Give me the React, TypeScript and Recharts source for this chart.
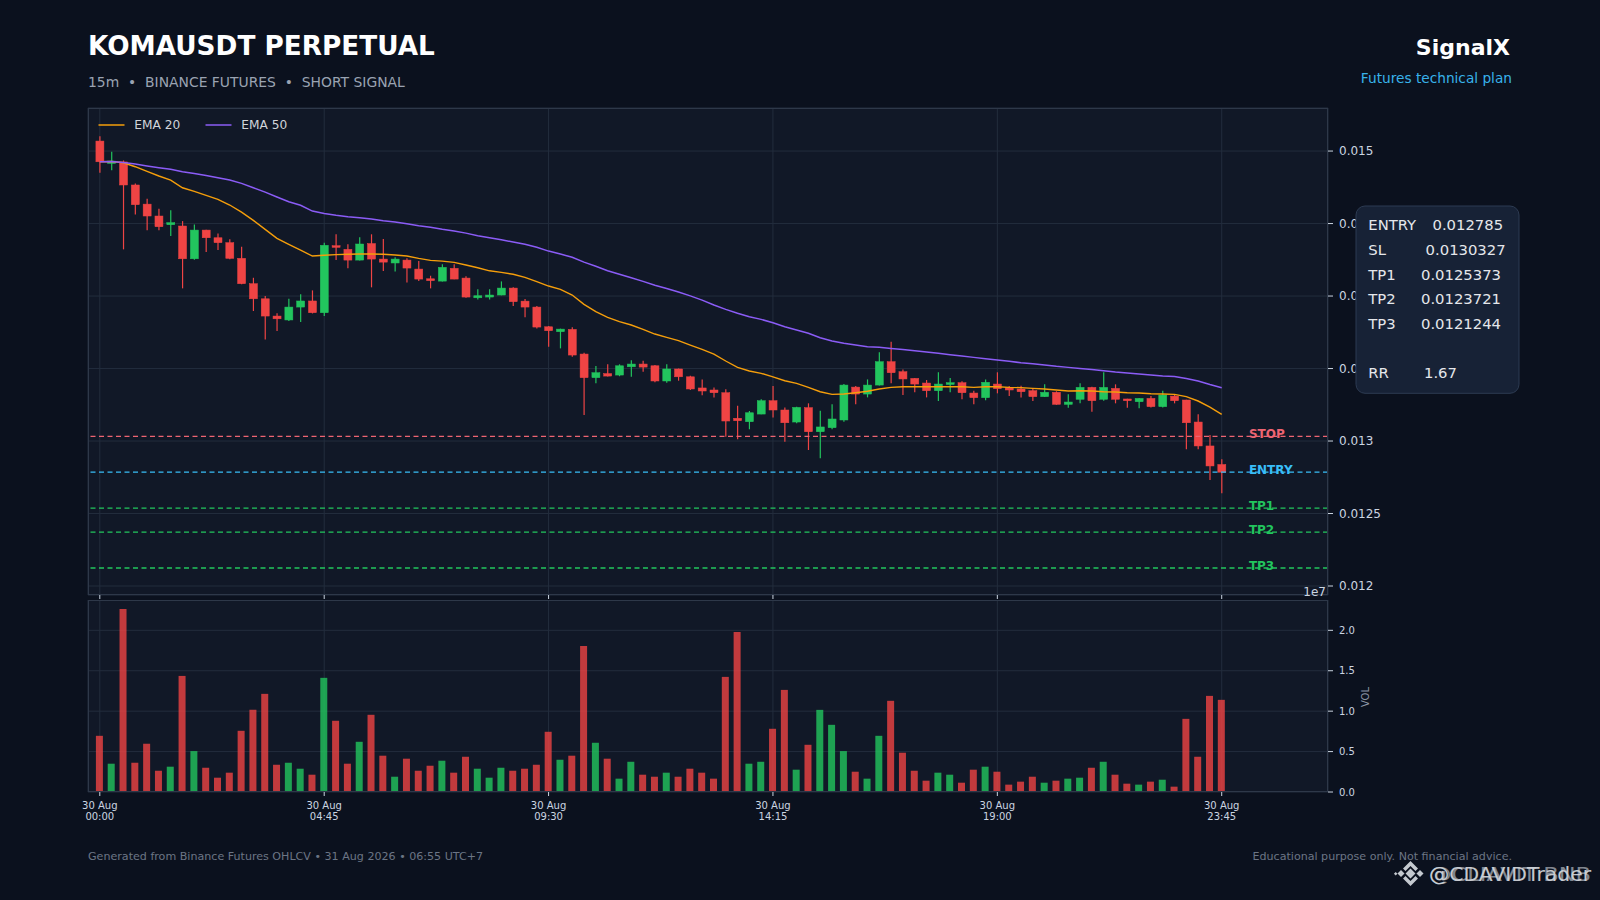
import React from 'react';
import { ComposedChart, Bar, Line, XAxis, YAxis, CartesianGrid, ReferenceLine, Cell } from 'recharts';

const FONT = '"DejaVu Sans", Verdana, sans-serif';
const BG = '#0b111e';
const PANEL = '#111827';
const GRID = '#232d3d';
const SPINE = '#2e3849';
const TICK_TEXT = '#cbd5e1';
const GREEN = '#22c55e';
const RED = '#ef4444';

// ---- data (15m candles, 30 Aug 00:00 -> 23:45) ----
const opens = [
  0.015069, 0.014915, 0.014925, 0.014766, 0.014634, 0.014552, 0.014492, 0.014483, 0.014257, 0.014455,
  0.014402, 0.014368, 0.01426, 0.014085, 0.013981, 0.013862, 0.013835, 0.013924, 0.013966, 0.013885,
  0.014347, 0.014322, 0.014248, 0.014362, 0.014255, 0.014228, 0.014248, 0.014186, 0.014119, 0.014103,
  0.014191, 0.014124, 0.013988, 0.013993, 0.014007, 0.014055, 0.013965, 0.013924, 0.013788, 0.013754,
  0.01377, 0.0136, 0.013437, 0.013465, 0.013455, 0.013512, 0.013531, 0.013519, 0.013414, 0.013497,
  0.013443, 0.013366, 0.013352, 0.013333, 0.013157, 0.013133, 0.013186, 0.013278, 0.013214, 0.013131,
  0.01323, 0.013064, 0.013092, 0.013145, 0.013372, 0.013324, 0.013386, 0.013547, 0.013478, 0.013432,
  0.0134, 0.013347, 0.01339, 0.013402, 0.013331, 0.013299, 0.013393, 0.01337, 0.013359, 0.013347,
  0.013306, 0.013336, 0.013253, 0.013288, 0.01337, 0.013288, 0.013363, 0.01329, 0.013271, 0.013294,
  0.013237, 0.01331, 0.013283, 0.013131, 0.012966, 0.012838,
];
const highs = [
  0.015103, 0.014995, 0.014935, 0.014777, 0.014671, 0.014602, 0.014591, 0.014517, 0.014494, 0.014458,
  0.014432, 0.014391, 0.01434, 0.014126, 0.014, 0.013881, 0.013981, 0.014012, 0.014039, 0.014368,
  0.014426, 0.014357, 0.014405, 0.014426, 0.014393, 0.014267, 0.01426, 0.014241, 0.01414, 0.014219,
  0.014219, 0.014136, 0.014046, 0.014046, 0.014101, 0.01406, 0.013979, 0.013931, 0.013793, 0.013775,
  0.013784, 0.013609, 0.013517, 0.013529, 0.013529, 0.013557, 0.013554, 0.013524, 0.013529, 0.0135,
  0.01345, 0.013425, 0.01337, 0.013357, 0.013243, 0.013207, 0.013288, 0.013379, 0.013232, 0.013237,
  0.01326, 0.013209, 0.013253, 0.013393, 0.01338, 0.013425, 0.013612, 0.013685, 0.013494, 0.013435,
  0.013421, 0.013474, 0.013435, 0.013412, 0.013347, 0.013425, 0.013474, 0.013379, 0.013381, 0.013359,
  0.013391, 0.013343, 0.013322, 0.013398, 0.013374, 0.013474, 0.013391, 0.013292, 0.013297, 0.01331,
  0.013347, 0.01332, 0.013285, 0.013184, 0.013041, 0.012874,
];
const lows = [
  0.01485, 0.014867, 0.014322, 0.014563, 0.014453, 0.014453, 0.014414, 0.014053, 0.01425, 0.014303,
  0.014317, 0.014253, 0.014081, 0.013897, 0.013701, 0.013759, 0.013828, 0.013821, 0.01388, 0.013862,
  0.014248, 0.014191, 0.014245, 0.01406, 0.014172, 0.01417, 0.014094, 0.014103, 0.014053, 0.0141,
  0.014115, 0.013988, 0.013977, 0.013977, 0.014005, 0.013931, 0.013853, 0.013777, 0.01365, 0.013639,
  0.013581, 0.013179, 0.013398, 0.013445, 0.013447, 0.013443, 0.013478, 0.013405, 0.013402, 0.013416,
  0.013352, 0.013315, 0.013301, 0.01303, 0.013012, 0.013081, 0.013184, 0.013163, 0.012995, 0.013122,
  0.012938, 0.012881, 0.013081, 0.013133, 0.013253, 0.013301, 0.013383, 0.013398, 0.013317, 0.013336,
  0.013301, 0.013276, 0.013336, 0.013288, 0.013253, 0.013281, 0.013329, 0.01331, 0.013301, 0.013276,
  0.013303, 0.01325, 0.01323, 0.01326, 0.013202, 0.013278, 0.01326, 0.01323, 0.013226, 0.013232,
  0.013232, 0.01326, 0.012943, 0.012943, 0.012731, 0.012639,
];
const closes = [
  0.014926, 0.014931, 0.014766, 0.01463, 0.014552, 0.014478, 0.014506, 0.014257, 0.014455, 0.014402,
  0.014368, 0.01426, 0.014085, 0.013981, 0.013862, 0.013843, 0.013924, 0.013966, 0.013885, 0.01435,
  0.014338, 0.014248, 0.014359, 0.014255, 0.014234, 0.014255, 0.014193, 0.014117, 0.014106, 0.014198,
  0.014117, 0.013993, 0.014002, 0.014007, 0.014055, 0.013961, 0.013924, 0.013786, 0.013761, 0.013772,
  0.013593, 0.013437, 0.013471, 0.013448, 0.013519, 0.013531, 0.01351, 0.013414, 0.013497, 0.013443,
  0.013359, 0.013345, 0.013333, 0.013138, 0.01314, 0.013195, 0.013278, 0.013214, 0.013126, 0.013232,
  0.013064, 0.013097, 0.013152, 0.013386, 0.013324, 0.013386, 0.013547, 0.013471, 0.013428, 0.013393,
  0.013347, 0.013393, 0.013402, 0.013333, 0.013299, 0.013405, 0.013361, 0.013352, 0.01334, 0.013306,
  0.013336, 0.013253, 0.013269, 0.01337, 0.013278, 0.01337, 0.013288, 0.013278, 0.013294, 0.013237,
  0.013317, 0.013278, 0.013126, 0.012966, 0.012828, 0.012785,
];
const volumes = [
  6950000, 3500000, 22630000, 3620000, 5970000, 2630000, 3130000, 14360000, 5060000, 3000000,
  1770000, 2390000, 7570000, 10160000, 12140000, 3370000, 3620000, 2880000, 2140000, 14120000,
  8810000, 3500000, 6210000, 9550000, 4490000, 1890000, 4120000, 2630000, 3250000, 3870000,
  2390000, 4360000, 2880000, 1770000, 3000000, 2630000, 2880000, 3370000, 7450000, 3990000,
  4490000, 18070000, 6090000, 4120000, 1650000, 3740000, 2140000, 1890000, 2390000, 1890000,
  2880000, 2390000, 1650000, 14240000, 19790000, 3500000, 3740000, 7820000, 12630000, 2760000,
  5840000, 10160000, 8310000, 5060000, 2510000, 1650000, 6950000, 11280000, 4860000, 2630000,
  1400000, 2390000, 2140000, 1150000, 2760000, 3130000, 2510000, 910000, 1280000, 1890000,
  1150000, 1400000, 1650000, 1770000, 3000000, 3740000, 2140000, 1030000, 910000, 1280000,
  1520000, 660000, 9050000, 4360000, 11890000, 11400000,
];
const ema20 = [
  0.014926, 0.014928, 0.014919, 0.014892, 0.01486, 0.014828, 0.0148, 0.014747, 0.014722, 0.014694,
  0.014667, 0.014628, 0.014579, 0.014522, 0.01446, 0.014398, 0.014357, 0.014317, 0.014276, 0.014281,
  0.014286, 0.014288, 0.01429, 0.01429, 0.014288, 0.014283, 0.014276, 0.01426, 0.014246, 0.014241,
  0.014232, 0.014214, 0.014195, 0.014174, 0.014163, 0.01415, 0.014129, 0.014099, 0.014069, 0.014046,
  0.014007, 0.013943, 0.013892, 0.013853, 0.013823, 0.0138, 0.01377, 0.013738, 0.013715, 0.013692,
  0.013662, 0.013632, 0.0136, 0.013552, 0.013508, 0.013483, 0.013467, 0.013443, 0.013416, 0.013398,
  0.01337, 0.01334, 0.013322, 0.013324, 0.013333, 0.013343, 0.013359, 0.01337, 0.013374, 0.013374,
  0.013374, 0.013374, 0.013374, 0.013374, 0.01337, 0.013374, 0.013374, 0.01337, 0.013368, 0.013363,
  0.013359, 0.013352, 0.013345, 0.013347, 0.013345, 0.01334, 0.013338, 0.013333, 0.013331, 0.013326,
  0.013324, 0.013322, 0.013306, 0.013276, 0.013234, 0.013184,
];
const ema50 = [
  0.014926, 0.014928, 0.014921, 0.01491, 0.014897, 0.014885, 0.014874, 0.014857, 0.014846, 0.014832,
  0.014816, 0.0148, 0.014777, 0.014747, 0.014717, 0.014683, 0.01465, 0.014626, 0.014586, 0.014569,
  0.014557, 0.014547, 0.01454, 0.014531, 0.014519, 0.01451, 0.014499, 0.014485, 0.014474, 0.01446,
  0.014448, 0.014434, 0.014416, 0.014402, 0.014388, 0.014372, 0.014357, 0.014336, 0.01431, 0.01429,
  0.014267, 0.014234, 0.014205, 0.014175, 0.01415, 0.014126, 0.014101, 0.014074, 0.014052, 0.014028,
  0.014001, 0.013972, 0.013938, 0.013908, 0.013881, 0.013857, 0.013839, 0.013816, 0.013788, 0.013766,
  0.013743, 0.013712, 0.01369, 0.013674, 0.013662, 0.01365, 0.013646, 0.013639, 0.013632, 0.013623,
  0.013614, 0.013605, 0.013595, 0.013586, 0.013577, 0.013568, 0.013559, 0.01355, 0.01354, 0.013533,
  0.013524, 0.013515, 0.013508, 0.013501, 0.013494, 0.013485, 0.013476, 0.013469, 0.013462, 0.013455,
  0.013448, 0.013445, 0.013432, 0.013414, 0.01339, 0.013368,
];

const xTickIndex = [0, 19, 38, 57, 76, 95];
const xTickDate = '30 Aug';
const xTickTime = ['00:00', '04:45', '09:30', '14:15', '19:00', '23:45'];
const priceTicks = [0.012, 0.0125, 0.013, 0.0135, 0.014, 0.0145, 0.015];
const volumeTicks = [0, 5000000, 10000000, 15000000, 20000000];

const levelNames = ['STOP', 'ENTRY', 'TP1', 'TP2', 'TP3'];
const levelValues = [0.0130327, 0.012785, 0.0125373, 0.0123721, 0.0121244];
const levelColors = ['#ee6472', '#38bdf8', '#22c55e', '#22c55e', '#22c55e'];

const planLabels = ['ENTRY', 'SL', 'TP1', 'TP2', 'TP3'];
const planValues = ['0.012785', '0.0130327', '0.0125373', '0.0123721', '0.0121244'];
const rrValue = '1.67';

const X_DOMAIN: [number, number] = [-1, 104];
const PRICE_DOMAIN: [number, number] = [0.011938, 0.015297];
const VOL_DOMAIN: [number, number] = [0, 23750000];
const LEVEL_LABEL_INDEX = 97.3;

const data = opens.map((o, i) => ({
  i,
  open: o,
  high: highs[i],
  low: lows[i],
  close: closes[i],
  range: [lows[i], highs[i]],
  volume: volumes[i],
  ema20: ema20[i],
  ema50: ema50[i],
  up: closes[i] >= o,
}));

const CandleShape = (props: any) => {
  const { x, y, width, height, payload } = props;
  if (!payload || x == null || y == null || height == null) return null;
  const { open, close, high, low } = payload;
  const top = Math.min(y, y + height);
  const h = Math.abs(height);
  const span = high - low;
  const pos = (v: number) => (span > 0 ? top + ((high - v) / span) * h : top);
  const color = close >= open ? GREEN : RED;
  const cx = x + width / 2;
  const bTop = pos(Math.max(open, close));
  const bBot = pos(Math.min(open, close));
  const bH = Math.max(bBot - bTop, 1.6);
  return (
    <g>
      <line x1={cx} x2={cx} y1={top} y2={top + h} stroke={color} strokeWidth={1.2} />
      <rect x={x} y={bTop} width={width} height={bH} fill={color} stroke={color} strokeWidth={0.5} />
    </g>
  );
};

const makeLevelLabel = (name: string, color: string) => (props: any) => {
  const vb = props.viewBox || {};
  if (vb.x == null) return null;
  const lx = vb.x + ((LEVEL_LABEL_INDEX - X_DOMAIN[0]) / (X_DOMAIN[1] - X_DOMAIN[0])) * vb.width;
  return (
    <text x={lx} y={vb.y - 2} dominantBaseline="central" fill={color} fontSize={12} fontWeight="bold" fontFamily={FONT}>
      {name}
    </text>
  );
};

const DateTick = (props: any) => {
  const { x, y, payload } = props;
  const idx = xTickIndex.indexOf(payload.value);
  return (
    <text x={x} y={y} textAnchor="middle" fill={TICK_TEXT} fontSize={10} fontFamily={FONT}>
      <tspan x={x} dy={10.5}>{xTickDate}</tspan>
      <tspan x={x} dy={11.5}>{idx >= 0 ? xTickTime[idx] : ''}</tspan>
    </text>
  );
};

const EmptyTick = () => <g />;

const PriceChart = () => (
  <ComposedChart width={1600} height={600} data={data} margin={{ top: 108, right: 212, bottom: 0, left: 88 }}>
    <CartesianGrid stroke={GRID} strokeWidth={1} />
    <XAxis
      type="number"
      dataKey="i"
      domain={X_DOMAIN}
      ticks={xTickIndex}
      allowDataOverflow
      height={5}
      tick={EmptyTick}
      tickSize={4}
      axisLine={false}
      tickLine={{ stroke: TICK_TEXT, strokeWidth: 1 }}
    />
    <YAxis
      orientation="right"
      type="number"
      domain={PRICE_DOMAIN}
      ticks={priceTicks}
      allowDataOverflow
      width={60}
      tickSize={5}
      tickMargin={6}
      axisLine={false}
      tickLine={{ stroke: TICK_TEXT, strokeWidth: 1 }}
      tick={{ fill: TICK_TEXT, fontSize: 12, fontFamily: FONT }}
      tickFormatter={(v: number) => String(v)}
    />
    {levelValues.map((v, k) => (
      <ReferenceLine
        key={levelNames[k]}
        y={v}
        stroke={levelColors[k]}
        strokeWidth={1.3}
        strokeDasharray="5 3.5"
        label={makeLevelLabel(levelNames[k], levelColors[k])}
      />
    ))}
    <Bar dataKey="range" barSize={8} shape={CandleShape} isAnimationActive={false} />
    <Line type="linear" dataKey="ema20" stroke="#f59e0b" strokeWidth={1.4} dot={false} isAnimationActive={false} />
    <Line type="linear" dataKey="ema50" stroke="#8b5cf6" strokeWidth={1.5} dot={false} isAnimationActive={false} />
  </ComposedChart>
);

const VolumeChart = () => (
  <ComposedChart width={1600} height={230} data={data} margin={{ top: 0, right: 212, bottom: 0, left: 88 }}>
    <CartesianGrid stroke={GRID} strokeWidth={1} />
    <XAxis
      type="number"
      dataKey="i"
      domain={X_DOMAIN}
      ticks={xTickIndex}
      allowDataOverflow
      height={38}
      tick={DateTick}
      tickSize={4}
      axisLine={false}
      tickLine={{ stroke: TICK_TEXT, strokeWidth: 1 }}
    />
    <YAxis
      orientation="right"
      type="number"
      domain={VOL_DOMAIN}
      ticks={volumeTicks}
      allowDataOverflow
      width={60}
      tickSize={5}
      tickMargin={6}
      axisLine={false}
      tickLine={{ stroke: TICK_TEXT, strokeWidth: 1 }}
      tick={{ fill: TICK_TEXT, fontSize: 10, fontFamily: FONT }}
      tickFormatter={(v: number) => (v / 1e7).toFixed(1)}
    />
    <Bar dataKey="volume" barSize={7} isAnimationActive={false}>
      {data.map((d) => (
        <Cell key={d.i} fill={d.up ? GREEN : RED} fillOpacity={0.8} />
      ))}
    </Bar>
  </ComposedChart>
);

const Overlay = () => {
  const rowY = [224.3, 250, 274.3, 298.3, 323.3];
  const valueX = [1432.5, 1425.6, 1421, 1421, 1421];
  return (
    <svg width={1600} height={900} style={{ position: 'absolute', left: 0, top: 0, pointerEvents: 'none' }} fontFamily={FONT}>
      <text x={88} y={54.5} fill="#ffffff" fontSize={26.3} fontWeight="bold">KOMAUSDT PERPETUAL</text>
      <text x={88} y={86.5} fill="#9aa3b2" fontSize={13.9} xmlSpace="preserve">15m  •  BINANCE FUTURES  •  SHORT SIGNAL</text>
      <text x={1510} y={54.5} fill="#ffffff" fontSize={22} fontWeight="bold" textAnchor="end">SignalX</text>
      <text x={1512} y={83} fill="#38b2ea" fontSize={13.7} textAnchor="end">Futures technical plan</text>

      {/* legend */}
      <line x1={98.5} x2={124.5} y1={125} y2={125} stroke="#f59e0b" strokeWidth={1.5} />
      <text x={134.3} y={129.4} fill="#d1d5db" fontSize={12.2}>EMA 20</text>
      <line x1={205.5} x2={231.5} y1={125} y2={125} stroke="#8b5cf6" strokeWidth={1.5} />
      <text x={241.3} y={129.4} fill="#d1d5db" fontSize={12.2}>EMA 50</text>

      {/* info box */}
      <rect x={1356} y={206} width={163} height={187.3} rx={9} ry={9} fill="#172236" stroke="#2d3b52" strokeWidth={1} />
      {planLabels.map((l, k) => (
        <g key={l}>
          <text x={1368.3} y={rowY[k] + 5.4} fill="#e5e7eb" fontSize={14.8}>{l}</text>
          <text x={valueX[k]} y={rowY[k] + 5.4} fill="#e5e7eb" fontSize={14.8}>{planValues[k]}</text>
        </g>
      ))}
      <text x={1368.3} y={378.1} fill="#e5e7eb" fontSize={14.8}>RR</text>
      <text x={1424} y={378.1} fill="#e5e7eb" fontSize={14.8}>{rrValue}</text>

      {/* volume axis decorations */}
      <text x={1326} y={595.5} fill={TICK_TEXT} fontSize={12} textAnchor="end">1e7</text>
      <text x={1369} y={697} fill="#8b95a5" fontSize={10} textAnchor="middle" transform="rotate(-90 1369 697)">VOL</text>

      {/* footer */}
      <text x={88} y={860} fill="#6b7585" fontSize={11.1}>Generated from Binance Futures OHLCV • 31 Aug 2026 • 06:55 UTC+7</text>
      <text x={1512} y={860} fill="#6b7585" fontSize={11.1} textAnchor="end">Educational purpose only. Not financial advice.</text>

      {/* watermark */}
      <g fill="#d9dde3" opacity={0.9}>
        <rect x={1407} y={870} width={7} height={7} transform="rotate(45 1410.5 873.5)" />
        <rect x={1398.5} y={871} width={5} height={5} transform="rotate(45 1401 873.5)" />
        <rect x={1417.5} y={871} width={5} height={5} transform="rotate(45 1420 873.5)" />
        <path d="M1410.5 861 L1418 868.5 L1415.5 871 L1410.5 866 L1405.5 871 L1403 868.5 Z" />
        <path d="M1410.5 886 L1418 878.5 L1415.5 876 L1410.5 881 L1405.5 876 L1403 878.5 Z" />
        <rect x={1394.5} y={872.5} width={2.5} height={2.5} transform="rotate(45 1395.7 873.7)" />
      </g>
      <text x={1429} y={881} fill="#e5e7eb" fontSize={20} textLength={162} lengthAdjust="spacingAndGlyphs" opacity={0.85}>@CDAVIDTrader</text>
      <text x={1429} y={881} fill="#cfd4db" fontSize={20} textLength={162} lengthAdjust="spacingAndGlyphs" opacity={0.6}>@CLIAVIT  BNB</text>
    </svg>
  );
};

export default function App() {
  return (
    <div style={{ position: 'fixed', left: 0, top: 0, width: 1600, height: 900, background: BG, overflow: 'hidden', fontFamily: FONT }}>
      <div style={{ position: 'absolute', left: 88, top: 108, width: 1240, height: 487, background: PANEL }} />
      <div style={{ position: 'absolute', left: 88, top: 600, width: 1240, height: 192, background: PANEL }} />
      <div style={{ position: 'absolute', left: 0, top: 0 }}>
        <PriceChart />
      </div>
      <div style={{ position: 'absolute', left: 0, top: 600 }}>
        <VolumeChart />
      </div>
      <div style={{ position: 'absolute', left: 88, top: 108, width: 1240, height: 487, border: `1px solid ${SPINE}`, boxSizing: 'border-box', pointerEvents: 'none' }} />
      <div style={{ position: 'absolute', left: 88, top: 600, width: 1240, height: 192, border: `1px solid ${SPINE}`, boxSizing: 'border-box', pointerEvents: 'none' }} />
      <Overlay />
    </div>
  );
}
